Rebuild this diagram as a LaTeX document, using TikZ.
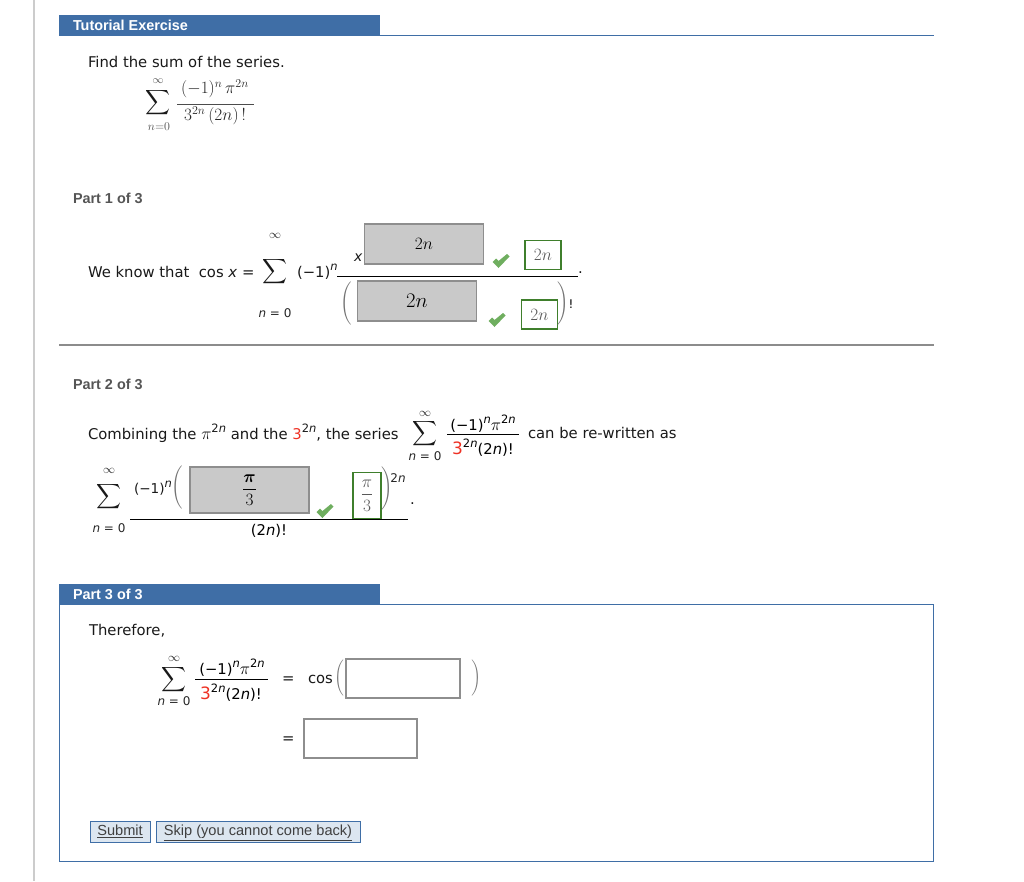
\documentclass[tikz,border=0pt]{standalone}
\usepackage[no-math]{fontspec}
\usepackage{amsmath}
\setmainfont{DejaVu Sans}
\newfontfamily\headfont{Liberation Sans}
\usetikzlibrary{positioning}
\definecolor{barblue}{HTML}{3F6EA6}
\definecolor{partgrey}{HTML}{555555}
\definecolor{boxgrey}{HTML}{C9C9C9}
\definecolor{edgegrey}{HTML}{8E8E8E}
\definecolor{okgreen}{HTML}{3F7F2C}
\definecolor{tickgreen}{HTML}{6FAE5F}
\definecolor{btnfill}{HTML}{DCE6F0}
\definecolor{redthree}{HTML}{EE3124}
\newcommand{\up}[1]{\raisebox{.48em}{\fontsize{11.5}{11.5}\selectfont #1}}
\newcommand{\upn}{\up{\textit{n}}}
\newcommand{\uptwon}{\up{2\textit{n}}}
\newcommand{\sernum}{(−1)\upn{\fontsize{17}{17}\selectfont$\pi$}\uptwon}
\newcommand{\serden}{{\color{redthree}\fontsize{17}{17}\selectfont 3}\uptwon(2\textit{n})!}
\tikzset{okmark/.pic={\fill[tickgreen] (-8.5,1) -- (-5,-2.5) -- (-2.5,0) -- (6,-7) -- (8.5,-4.5) -- (-2.5,7) -- cycle;}}
\begin{document}
\begin{tikzpicture}[x=1pt, y=-1pt, node distance=1pt, every node/.style={inner sep=0pt, outer sep=0pt}]
\tikzstyle{plain}=[anchor=west, font=\fontsize{14.8}{17}\selectfont, text=black!90]
\tikzstyle{small}=[font=\fontsize{12}{14}\selectfont, text=black!85]
\tikzstyle{parthead}=[anchor=west, font=\headfont\bfseries\fontsize{14.4}{16}\selectfont, text=partgrey]
\tikzstyle{barhead}=[parthead, text=white]
\tikzstyle{banner}=[fill=barblue, draw=none]
\tikzstyle{rulebar}=[draw=barblue, line width=1pt]
\tikzstyle{fracbar}=[draw=black, line width=1pt]
\tikzstyle{sumsign}=[font=\fontsize{19}{19}\selectfont, text=black!90]
\tikzstyle{answered}=[draw=edgegrey, fill=boxgrey, line width=1.4pt, minimum width=0pt]
\tikzstyle{blank}=[draw=edgegrey, fill=white, line width=1.4pt]
\tikzstyle{solution}=[draw=okgreen, fill=white, line width=1.1pt, text=black!65]
\tikzstyle{delim}=[text=black!55]
\tikzstyle{button}=[draw=barblue, fill=btnfill, line width=1pt, font=\headfont\fontsize{14.6}{16}\selectfont, text=black!75, text height=11pt, text depth=4pt]
\useasboundingbox (0,0) rectangle (1024,881);
\draw[draw=black!20, line width=1.4pt] (34,0) -- (34,881);
\draw[rulebar] (380,35.5) -- (934,35.5);
\fill[banner] (59,15) rectangle (380,35.5);
\node[barhead] (title) at (73,25) {Tutorial Exercise};
\node[plain] (find) at (88,62) {Find the sum of the series.};
\node[sumsign] (sum0) at (158,103) {$\displaystyle\sum$};
\node[font=\fontsize{11}{11}\selectfont, text=black!70] (inf0) at (158,81) {$\infty$};
\node[font=\fontsize{12}{12}\selectfont, text=black!70] (low0) at (159,127) {$n{=}0$};
\node[font=\fontsize{17.5}{18}\selectfont, text=black!85] (num0) at (215,89) {$(-1)^n\,\pi^{2n}$};
\node[font=\fontsize{17}{18}\selectfont, text=black!85] (den0) at (215,116) {$3^{2n}\,(2n)\,!$};
\draw[fracbar, line width=.8pt, draw=black!70] (177,104) -- (254,104);
\node[parthead] (part1) at (73,198) {Part 1 of 3};
\node[plain] (know) at (88,272) {We know that\ \ cos \textit{x} =};
\node[sumsign] (sum1) at (275,272) {$\displaystyle\sum$};
\node[small] (inf1) at (275,236) {$\infty$};
\node[small] (low1) at (275,313) {\textit{n} = 0};
\node[plain] (minus1) at (297,272) {(−1)\upn};
\draw[fracbar] (337,276.5) -- (578,276.5);
\node[plain, font=\fontsize{14}{16}\selectfont] (x1) at (354,258) {\textit{x}};
\node[answered, minimum width=119pt, minimum height=40pt, anchor=north west, font=\fontsize{18}{18}\selectfont] (top1) at (364.5,224) {$2n$};
\node[answered, minimum width=119pt, minimum height=40pt, anchor=north west, font=\fontsize{22}{22}\selectfont] (bot1) at (357.5,281) {$2n$};
\pic at (501,261) {okmark};
\pic at (497,320) {okmark};
\node[solution, minimum width=36pt, minimum height=29pt, font=\fontsize{18}{18}\selectfont] (ans1) at (543,255) {$2n$};
\node[solution, minimum width=36pt, minimum height=29pt, font=\fontsize{18}{18}\selectfont] (ans2) at (539.5,314.5) {$2n$};
\node[delim, font=\fontsize{14.5}{15}\selectfont] (open1) at (346,304) {$\Biggl($};
\node[delim, font=\fontsize{14.5}{15}\selectfont] (close1) at (563,304) {$\Biggr)$};
\node[font=\fontsize{12}{14}\selectfont] (bang1) at (571,304) {!};
\node[plain] (dot1) at (578,273) {.};
\draw[draw=black!45, line width=1.4pt] (59,345) -- (934,345);
\node[parthead] (part2) at (73,384) {Part 2 of 3};
\node[plain] (combine) at (88,433) {Combining the {\fontsize{17}{17}\selectfont$\pi$}\uptwon\ and the {\color{redthree}3}\uptwon, the series};
\node[sumsign] (sum2) at (425,434) {$\displaystyle\sum$};
\node[small] (inf2) at (425,414) {$\infty$};
\node[small] (low2) at (425,456) {\textit{n} = 0};
\node[font=\fontsize{14.8}{17}\selectfont] (num2) at (483,424) {\sernum};
\node[font=\fontsize{14.8}{17}\selectfont] (den2) at (483,448) {\serden};
\draw[fracbar] (447,434.5) -- (519,434.5);
\node[plain] (rewrite) at (528,433) {can be re-written as};
\node[sumsign] (sum3) at (109,497) {$\displaystyle\sum$};
\node[small] (inf3) at (109,470.5) {$\infty$};
\node[small] (low3) at (109,528) {\textit{n} = 0};
\node[plain, font=\fontsize{13.6}{15}\selectfont] (minus3) at (134,488) {(−1)\upn};
\node[delim, font=\fontsize{14}{15}\selectfont] (open3) at (177,488) {$\Biggl($};
\node[answered, minimum width=119pt, minimum height=46pt, anchor=north west, font=\fontsize{19}{19}\selectfont, text=black] (top3) at (190,467) {$\dfrac{\boldsymbol{\pi}}{3}$};
\pic at (325,511) {okmark};
\node[solution, minimum width=28pt, minimum height=46pt, font=\fontsize{16}{16}\selectfont] (ans3) at (367,495.5) {$\dfrac{\pi}{3}$};
\node[delim, font=\fontsize{14}{15}\selectfont] (close3) at (387,489) {$\Biggr)$};
\node[small] (exp3) at (398,478) {2\textit{n}};
\draw[fracbar] (130,519.5) -- (408,519.5);
\node[font=\fontsize{14.8}{17}\selectfont] (fact3) at (269,531) {(2\textit{n})!};
\node[plain] (dot3) at (410,504) {.};
\draw[rulebar] (59,604.5) rectangle (933.5,861);
\fill[banner] (59,584) rectangle (380,604.5);
\node[barhead] (part3) at (73,594) {Part 3 of 3};
\node[plain] (therefore) at (89,631) {Therefore,};
\node[sumsign] (sum4) at (174,680) {$\displaystyle\sum$};
\node[small] (inf4) at (174,659) {$\infty$};
\node[small] (low4) at (174,701) {\textit{n} = 0};
\node[font=\fontsize{14.8}{17}\selectfont] (num4) at (232,668) {\sernum};
\node[font=\fontsize{14.8}{17}\selectfont] (den4) at (231,693) {\serden};
\draw[fracbar] (195,679.5) -- (268,679.5);
\node[plain] (eq1) at (282,680) {=};
\node[plain] (cos4) at (308,679) {cos};
\node[delim, font=\fontsize{12}{12}\selectfont] (open4) at (339,678) {$\Biggl($};
\node[blank, minimum width=114pt, minimum height=39pt, anchor=north west] (ans4) at (346,659) {};
\node[delim, font=\fontsize{12}{12}\selectfont] (close4) at (476,678) {$\Biggr)$};
\node[plain] (eq2) at (282,740) {=};
\node[blank, minimum width=113pt, minimum height=39pt, anchor=north west] (ans5) at (304,719) {};
\node[button, minimum width=60pt, minimum height=21pt] (submit) at (120,832) {\underline{Submit}};
\node[button, minimum width=204pt, minimum height=21pt, right=6pt of submit] (skip) {\underline{Skip (you cannot come back)}};
\end{tikzpicture}
\end{document}
